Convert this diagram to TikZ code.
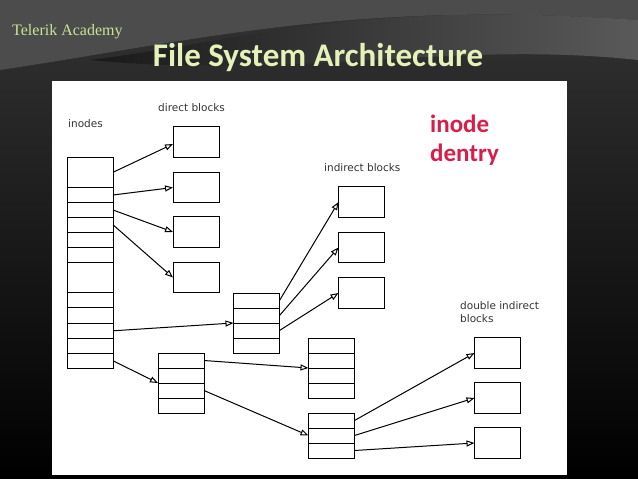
\documentclass[tikz,border=0pt]{standalone}
\usepackage{fontspec}
\setmainfont{DejaVu Sans}
\newfontfamily\titlefont{Carlito}
\newfontfamily\logofont{Liberation Serif}
\usetikzlibrary{arrows.meta}
\definecolor{titlec}{RGB}{228,242,186}
\definecolor{logoc}{RGB}{200,228,150}
\definecolor{redc}{RGB}{215,30,75}
\begin{document}
\begin{tikzpicture}[x=1pt,y=-1pt,
  cell/.style={draw,line width=1pt,minimum width=46pt,inner sep=0pt,outer sep=0pt},
  arr/.style={line width=1pt,-{Triangle[open,length=8pt,width=6pt]}},
  lbl/.style={font=\fontsize{10.5}{12.5}\selectfont,text=black!80,anchor=west,inner sep=0pt},
  red/.style={font=\titlefont\bfseries\fontsize{25}{28}\selectfont,text=redc,anchor=west,inner sep=0pt,
    preaction={draw=none}}]
\useasboundingbox (0,0) rectangle (638,479);
\shade[top color=black!80!white,bottom color=black] (0,0) rectangle (638,479);
\fill[black!70] (0,70) .. controls (200,40) and (350,0) .. (638,20) -- (638,0) -- (0,0) -- cycle;
\shade[left color=black!90,right color=gray!70!black] (90,60) .. controls (250,40) and (350,0) .. (638,20) -- (638,60) .. controls (450,40) and (300,80) .. (90,60) -- cycle;
\node[font=\logofont\fontsize{16}{18}\selectfont,text=logoc,anchor=west,inner sep=0pt] (logo) at (12,32) {Telerik Academy};
\node[font=\titlefont\bfseries\fontsize{33}{36}\selectfont,text=titlec,inner sep=0pt] (title) at (318,58) {File System Architecture};
\fill[white] (52,81) rectangle (567,475);
% labels
\node[lbl] (linodes) at (68,124) {inodes};
\node[lbl] (ldirect) at (158,108) {direct blocks};
\node[lbl] (lind) at (324,168) {indirect blocks};
\node[lbl,align=left] (ldbl) at (460,312) {double indirect\\blocks};
\node[red] (tinode) at (430,124) {inode};
\node[red] (tdentry) at (430,155) {dentry};
% inodes column
\foreach \n/\a/\b in {1/157.3/187.3,2/187.3/202.7,3/202.7/217.3,4/217.3/232.3,5/232.3/247.3,6/247.3/262.7,7/262.7/292.7,8/292.7/307.7,9/307.7/323.3,10/323.3/338.3,11/338.3/353.3,12/353.3/368.3}
  \node[cell,minimum height={\b-\a}] (i\n) at (90,{(\a+\b)/2}) {};
% direct blocks
\foreach \n/\y in {1/142,2/187.5,3/232,4/277.5}
  \node[cell,minimum height=30.5pt] (d\n) at (196,\y) {};
% indirect blocks
\foreach \n/\y in {1/202,2/247.5,3/293}
  \node[cell,minimum height=30.5pt] (r\n) at (361.5,\y) {};
% double indirect
\foreach \n/\y in {1/353,2/398,3/443}
  \node[cell,minimum height=30.5pt] (q\n) at (497.5,\y) {};
% middle stack
\foreach \n/\y in {1/300.5,2/315.5,3/330.5,4/345.5}
  \node[cell,minimum height=15pt] (m\n) at (256.5,\y) {};
% lower-left stack
\foreach \n/\y in {1/360.5,2/375.5,3/390.5,4/405.5}
  \node[cell,minimum height=15pt] (l\n) at (181,\y) {};
% bottom upper stack
\foreach \n/\y in {1/345.5,2/360.5,3/375.5,4/390.5}
  \node[cell,minimum height=15pt] (u\n) at (331.5,\y) {};
% bottom lower stack
\foreach \n/\y in {1/420.5,2/435.5,3/450.5}
  \node[cell,minimum height=15pt] (b\n) at (331.5,\y) {};
% arrows
\draw[arr] (i1.east) -- ([yshift=-2pt]d1.west);
\draw[arr] (i2.east) -- (d2.west);
\draw[arr] (i3.east) -- (d3.west);
\draw[arr] (i4.east) -- (d4.west);
\draw[arr] (i10.east) -- (m2.south west);
\draw[arr] (i12.east) -- (l2.south west);
\draw[arr] (m1.east) -- (r1.west);
\draw[arr] (m2.east) -- (r2.west);
\draw[arr] (m3.east) -- (r3.west);
\draw[arr] (l1.east) -- (u2.south west);
\draw[arr] (l3.east) -- (b2.west);
\draw[arr] (b1.east) -- (q1.west);
\draw[arr] (b2.east) -- (q2.west);
\draw[arr] (b3.east) -- (q3.west);
\end{tikzpicture}
\end{document}
